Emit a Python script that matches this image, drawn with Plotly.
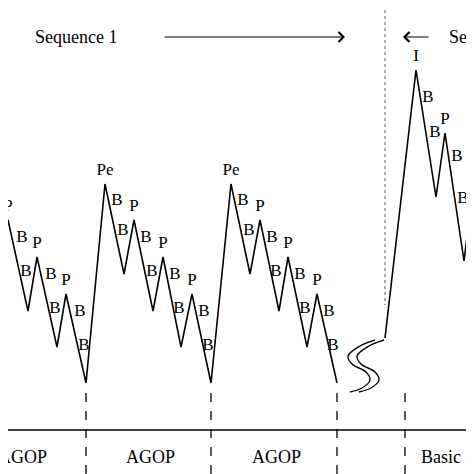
import plotly.graph_objects as go

# main zigzag, sequence 1 (pixel-like units, y grows downward)
seq1_x = [0, 8, 28, 37, 57, 66, 86, 105, 124, 134, 153, 163, 181, 192, 211,
          231, 250, 260, 279, 288, 307, 317, 337]
seq1_y = [262, 220, 311, 257, 347, 294, 383, 184, 274, 220, 311, 257, 347, 294, 383,
          184, 274, 220, 311, 257, 347, 294, 383]
# sequence 2 (right)
seq2_x = [385, 416, 436, 445, 464, 478]
seq2_y = [338, 70, 197, 133, 261, 150]

# peak labels
peak_x = [8, 37, 66, 105, 134, 163, 192, 231, 260, 288, 317, 416, 445]
peak_y = [220, 257, 294, 184, 220, 257, 294, 184, 220, 257, 294, 70, 133]
peak_txt = ["P", "P", "P", "Pe", "P", "P", "P", "Pe", "P", "P", "P", "I", "P"]

# B labels on the descending slopes
b_x = [1, 22, 26, 51, 55, 80, 84, 117, 123, 146, 152, 175, 179, 204, 208,
       243, 249, 272, 276, 300, 305, 329, 333, 428, 435, 457, 463]
b_y = [229, 238, 272, 275, 309, 312, 346, 201, 231, 238, 272, 275, 309, 312, 346,
       201, 231, 238, 272, 275, 309, 312, 346, 98, 133, 157, 199]

# phase boundaries and labels
bound_x = [86, 211, 337, 405]
phase_x = [-2, 126, 252, 421]
phase_txt = ["AGOP", "AGOP", "AGOP", "Basic Cycle"]

# break squiggle
sq_x = [375, 360, 348, 352, 366, 370, 362, 350]
sq_y = [340, 346, 356, 364, 372, 380, 388, 392]

FONT = "Liberation Serif, DejaVu Serif, serif"
blk = dict(color="black", width=1.6)

fig = go.Figure()
fig.add_trace(go.Scatter(x=seq1_x, y=seq1_y, mode="lines", line=blk))
fig.add_trace(go.Scatter(x=seq2_x, y=seq2_y, mode="lines", line=blk))
for dx in [0, 9]:
    fig.add_trace(go.Scatter(x=[v + dx for v in sq_x], y=sq_y, mode="lines",
                             line=dict(color="black", width=1.4, shape="spline")))

fig.add_trace(go.Scatter(x=peak_x, y=[v - 13 for v in peak_y], mode="text", text=peak_txt,
                         textfont=dict(family=FONT, size=17, color="black")))
fig.add_trace(go.Scatter(x=b_x, y=b_y, mode="text", text=["B"] * len(b_x),
                         textfont=dict(family=FONT, size=17, color="black")))
fig.add_trace(go.Scatter(x=phase_x, y=[458] * len(phase_x), mode="text", text=phase_txt,
                         textposition="middle right",
                         textfont=dict(family=FONT, size=18, color="black")))

shapes = [dict(type="line", x0=-20, x1=500, y0=430, y1=430, line=dict(color="black", width=1.3)),
          dict(type="line", x0=385, x1=385, y0=-20, y1=305,
               line=dict(color="#555", width=1, dash="dot"))]
for bx in bound_x:
    shapes.append(dict(type="line", x0=bx, x1=bx, y0=393, y1=500,
                       line=dict(color="black", width=1.3, dash="dash")))

ann = [dict(x=345, y=37, ax=163, ay=37, xref="x", yref="y", axref="x", ayref="y",
            showarrow=True, arrowhead=4, arrowsize=1.6, arrowwidth=1.2,
            arrowcolor="black", text=""),
       dict(x=403, y=37, ax=430, ay=37, xref="x", yref="y", axref="x", ayref="y",
            showarrow=True, arrowhead=4, arrowsize=1.6, arrowwidth=1.2,
            arrowcolor="black", text=""),
       dict(x=33, y=37, text="Sequence 1", showarrow=False, xanchor="left",
            font=dict(family=FONT, size=18, color="black")),
       dict(x=447, y=37, text="Sequence 2", showarrow=False, xanchor="left",
            font=dict(family=FONT, size=18, color="black"))]

fig.update_layout(width=474, height=474, margin=dict(l=0, r=0, t=0, b=0),
                  showlegend=False, plot_bgcolor="white", paper_bgcolor="white",
                  shapes=shapes, annotations=ann)
# page body adds an 8px offset, so shift the ranges to match
fig.update_xaxes(range=[8, 482], visible=False)
fig.update_yaxes(range=[482, 8], visible=False)
fig.write_html("out.html")
